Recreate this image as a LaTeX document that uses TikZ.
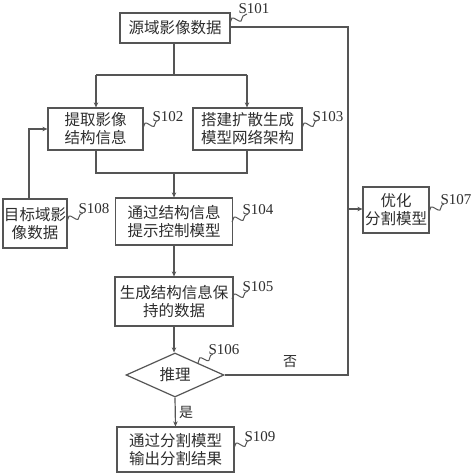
\documentclass[tikz,border=0pt]{standalone}
\usepackage{fontspec}
\setmainfont{Liberation Serif}
\newfontfamily\cjk{Noto Sans CJK SC}
\usetikzlibrary{shapes.geometric,arrows.meta,decorations.pathmorphing}
\definecolor{ln}{HTML}{555555}
\definecolor{tx}{HTML}{2E2E2E}
\tikzset{
  box/.style={draw=ln,line width=1.2pt,rectangle,inner sep=0pt,align=center,text=tx,font=\cjk\fontsize{15.5}{18}\selectfont},
  dia/.style={draw=ln,line width=1.2pt,diamond,inner sep=0pt,text=tx,font=\cjk\fontsize{15.5}{18}\selectfont},
  conn/.style={draw=ln,line width=1.2pt},
  arr/.style={conn,-{Stealth[length=5pt,width=4.5pt]}},
  wave/.style={draw=ln,line width=1pt,decorate,decoration={snake,segment length=13pt,amplitude=3.5pt}},
  slab/.style={text=tx,font=\fontsize{15}{17}\selectfont,inner sep=0pt},
  yn/.style={text=tx,font=\cjk\fontsize{14}{16}\selectfont,inner sep=0pt}
}
\begin{document}
\begin{tikzpicture}[x=1pt,y=-1pt]
\useasboundingbox (0,0) rectangle (474,476);
\fill[white] (0,0) rectangle (474,476);
% nodes
\node[box,minimum width=110pt,minimum height=30pt] (s101) at (175,28) {源域影像数据};
\node[box,minimum width=95pt,minimum height=42pt] (s102) at (95.5,129) {提取影像\\结构信息};
\node[box,minimum width=109pt,minimum height=42pt] (s103) at (247.5,129) {搭建扩散生成\\模型网络架构};
\node[box,minimum width=117pt,minimum height=47pt] (s104) at (174,221.5) {通过结构信息\\提示控制模型};
\node[box,minimum width=118pt,minimum height=49pt] (s105) at (174,301.5) {生成结构信息保\\持的数据};
\node[dia,minimum width=98pt,minimum height=44pt,aspect=2.2] (s106) at (175,375) {推理};
\node[box,minimum width=117pt,minimum height=45pt] (s109) at (175.5,449.5) {通过分割模型\\输出分割结果};
\node[box,minimum width=66pt,minimum height=46pt] (s107) at (396,210) {优化\\分割模型};
\node[box,minimum width=64pt,minimum height=49pt] (s108) at (35,223.5) {目标域影\\像数据};
% coordinates
\coordinate (j1) at (174,75);
\coordinate (j1l) at (96,75);
\coordinate (j1r) at (247,75);
\coordinate (j2) at (174,173);
\coordinate (j2l) at (96,173);
\coordinate (j2r) at (247,173);
\coordinate (rt) at (348,27);
\coordinate (rb) at (348,375);
\coordinate (rm) at (348,209);
\coordinate (lt) at (29,129);
% connectors
\draw[conn] (s101.south -| j1) -- (j1);
\draw[conn] (j1l) -- (j1r);
\draw[arr] (j1l) -- (j1l |- s102.north);
\draw[arr] (j1r) -- (j1r |- s103.north);
\draw[conn] (s102.south -| j2l) -- (j2l) -- (j2r) -- (s103.south -| j2r);
\draw[arr] (j2) -- (j2 |- s104.north);
\draw[arr] (s104.south -| j2) -- (j2 |- s105.north);
\draw[arr] (s105.south -| j2) -- (j2 |- s106.north);
\draw[arr] (s106.south) -- (s109.north);
\draw[conn] (s101.east |- rt) -- (rt) -- (rb) -- (s106.east);
\draw[arr] (rm) -- (s107.west |- rm);
\draw[arr] (s108.north -| lt) -- (lt) -- (s102.west |- lt);
% labels
\node[yn] (no) at (290,362) {否};
\node[yn] (yes) at (186,412) {是};
\node[slab] (l101) at (254,9) {S101};
\node[slab] (l102) at (168,117) {S102};
\node[slab] (l103) at (328,117) {S103};
\node[slab] (l104) at (258,210) {S104};
\node[slab] (l105) at (258,287) {S105};
\node[slab] (l106) at (224,350) {S106};
\node[slab] (l107) at (456,200) {S107};
\node[slab] (l108) at (94,209) {S108};
\node[slab] (l109) at (260,437) {S109};
% waves
\draw[wave] (230,23) -- (247,14);
\draw[wave] (143,128) -- (159,120);
\draw[wave] (302,128) -- (318,120);
\draw[wave] (232,222) -- (248,214);
\draw[wave] (232,299) -- (248,291);
\draw[wave] (198,363) -- (213,354);
\draw[wave] (429,212) -- (444,204);
\draw[wave] (67,221) -- (83,213);
\draw[wave] (234,448) -- (250,440);
\end{tikzpicture}
\end{document}
